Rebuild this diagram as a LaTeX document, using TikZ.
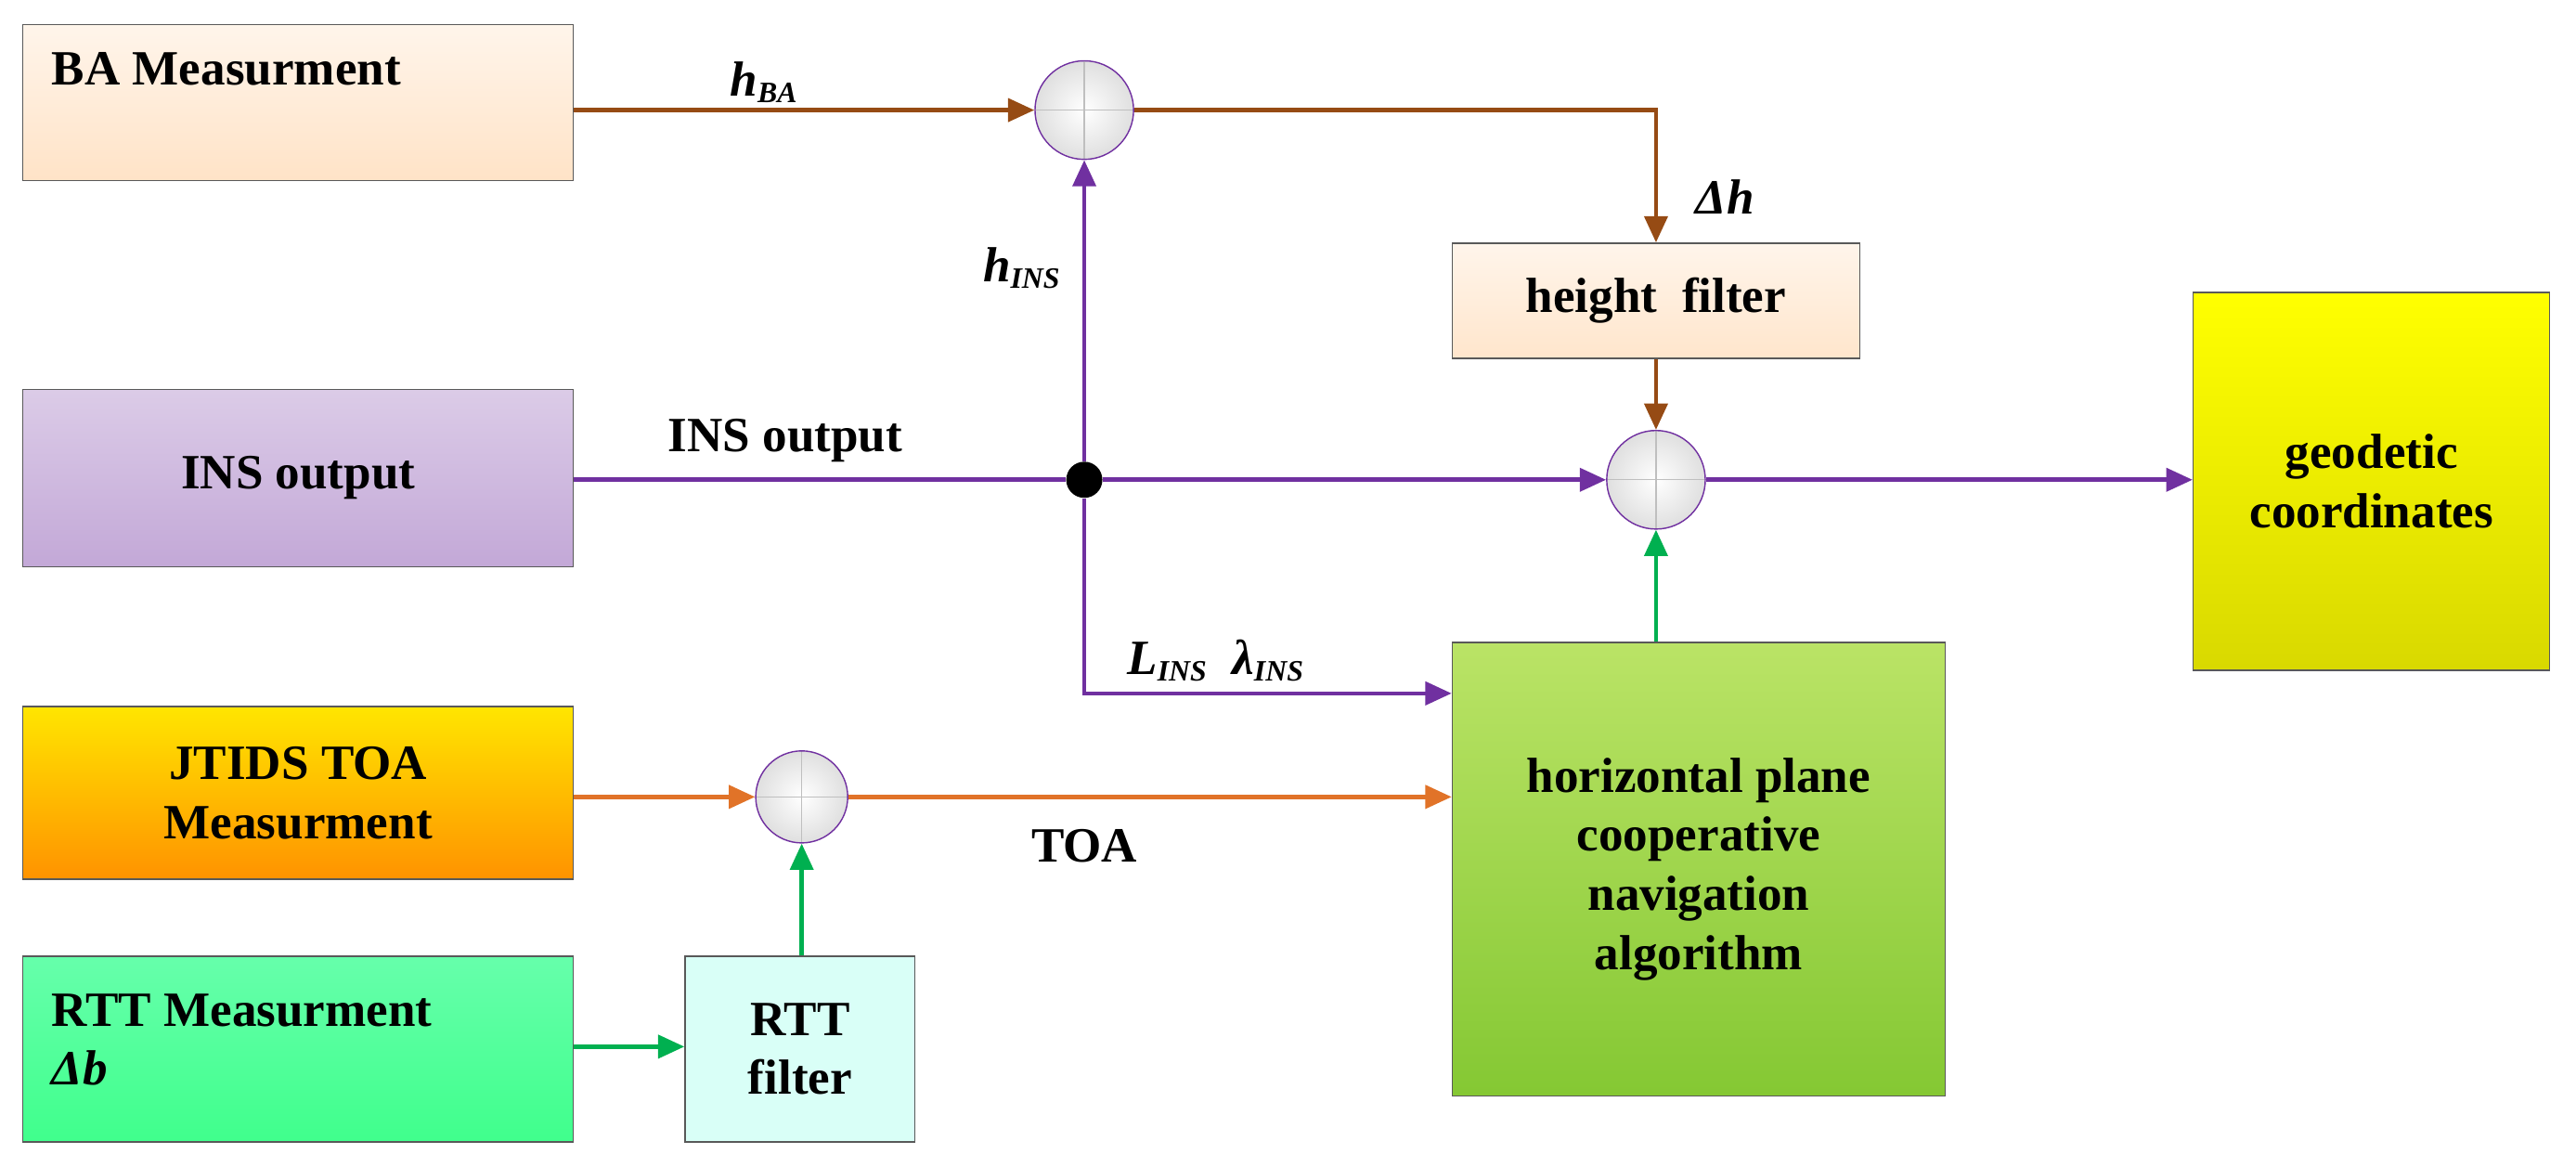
\documentclass[tikz,border=0pt]{standalone}
\usepackage{fontspec}
\setmainfont{Liberation Serif}
\usetikzlibrary{arrows.meta,calc}
\definecolor{brn}{RGB}{150,75,20}
\definecolor{pur}{RGB}{112,48,160}
\definecolor{org}{RGB}{225,115,40}
\definecolor{grn}{RGB}{0,176,80}
\begin{document}
\begin{tikzpicture}[x=1pt,y=-1pt,
  box/.style={draw=gray!70!black,line width=0.8pt,font=\fontsize{30}{36}\selectfont\bfseries,align=center,inner sep=0},
  sum/.style={circle,draw=pur,line width=0.8pt,minimum size=60pt,inner sep=0,inner color=white,outer color=gray!25,
    path picture={\draw[gray!50,line width=0.8pt] (path picture bounding box.north) -- (path picture bounding box.south) (path picture bounding box.west) -- (path picture bounding box.east);}},
  ln/.style={line width=2.6pt,-{Triangle[length=16pt,width=14pt]}},
  lb/.style={font=\fontsize{30}{36}\selectfont\bfseries}]
\useasboundingbox (0,0) rectangle (1568,710);
% boxes
\node[box,minimum width=335pt,minimum height=95pt,top color=orange!8,bottom color=orange!22] (ba) at (181.5,62.5) {};
\node[lb,anchor=west] at (28,42) {BA Measurment};
\node[box,minimum width=335pt,minimum height=108pt,top color=pur!25,bottom color=pur!42] (ins) at (181.5,291) {INS output};
\node[box,minimum width=335pt,minimum height=105pt,top color=yellow!80!orange,bottom color=orange!85!yellow] (jt) at (181.5,482.5) {JTIDS TOA\\Measurment};
\node[box,minimum width=335pt,minimum height=113pt,top color=green!55!cyan!60,bottom color=green!60!cyan!75] (rttm) at (181.5,638.5) {};
\node[lb,anchor=west] at (28,615) {RTT Measurment};
\node[lb,anchor=west] at (28,650) {\itshape Δb};
\node[box,minimum width=140pt,minimum height=113pt,fill=green!20!cyan!15] (rttf) at (487,638.5) {RTT\\filter};
\node[box,minimum width=248pt,minimum height=70pt,top color=orange!8,bottom color=orange!20] (hf) at (1008,183) {height\ \ filter};
\node[box,minimum width=300pt,minimum height=276pt,top color=green!60!black!45!yellow!60,bottom color=green!55!black!60!yellow!80,fill=green!50!lime] (hp) at (1034,529) {horizontal plane\\cooperative\\navigation\\algorithm};
\node[box,minimum width=217pt,minimum height=230pt,top color=yellow,bottom color=yellow!85!black] (geo) at (1443.5,293) {geodetic\\coordinates};
% sums
\node[sum] (s1) at (660,67) {};
\node[sum] (s2) at (1008,292) {};
\node[sum,minimum size=56pt] (s3) at (488,485) {};
\node[circle,fill=black,minimum size=22pt,inner sep=0] (dot) at (660,292) {};
\coordinate (c1) at (1008,67);
\coordinate (c2) at (660,422);
% connectors
\draw[ln,brn] (ba.east |- s1) -- (s1.west);
\draw[ln,brn] (s1.east) -- (c1) -- (hf.north);
\draw[ln,brn] (hf.south) -- (s2.north);
\draw[line width=2.6pt,pur] (ins.east |- dot) -- (dot);
\draw[ln,pur] (dot) -- (s2.west);
\draw[ln,pur] (dot) -- (s1.south);
\draw[ln,pur] (dot) -- (c2) -- (hp.west |- c2);
\draw[ln,pur] (s2.east) -- (geo.west |- s2);
\draw[ln,grn] (hp.north -| s2) -- (s2.south);
\draw[ln,org] (jt.east |- s3) -- (s3.west);
\draw[ln,org] (s3.east) -- (hp.west |- s3);
\draw[ln,grn] (rttm.east |- 0,637) -- (rttf.west |- 0,637);
\draw[ln,grn] (rttf.north -| s3) -- (s3.south);
% labels
\node[lb] at (465,50) {\itshape h\textsubscript{\fontsize{18}{20}\selectfont BA}};
\node[lb] at (1050,120) {\itshape Δh};
\node[lb] at (478,268) {INS output};
\node[lb] at (622,163) {\itshape h\textsubscript{\fontsize{18}{20}\selectfont INS}};
\node[lb] at (740,402) {\itshape L\textsubscript{\fontsize{18}{20}\selectfont INS}\ \ λ\textsubscript{\fontsize{18}{20}\selectfont INS}};
\node[lb] at (660,515) {TOA};
\end{tikzpicture}
\end{document}
